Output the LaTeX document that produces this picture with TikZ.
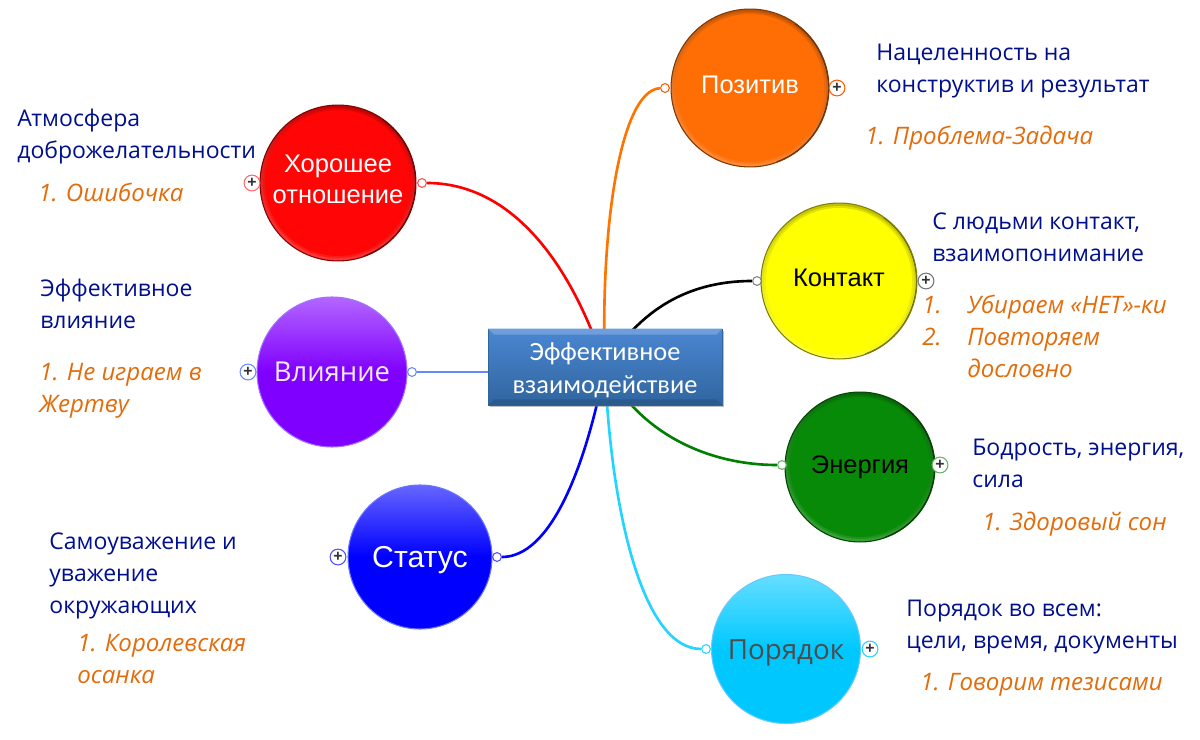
\documentclass[tikz,border=0pt]{standalone}
\usepackage{fontspec}
\usetikzlibrary{backgrounds,shadows}
\setmainfont{Open Sans}
\newfontfamily\arialfont{Liberation Sans}
\newfontfamily\boxfont{Carlito}

\definecolor{navytext}{HTML}{000F8C}
\definecolor{notetext}{HTML}{E36C0A}
\definecolor{bubblered}{HTML}{FF0505}
\definecolor{bubbleorange}{HTML}{FF6E05}
\definecolor{bubbleyellow}{HTML}{FFFF00}
\definecolor{bubblegreen}{HTML}{078A07}
\definecolor{bubbleviolet}{HTML}{8000FF}
\definecolor{bubbleblue}{HTML}{0000FF}
\definecolor{bubblecyan}{HTML}{00C8FF}
\definecolor{branchblue}{HTML}{6688FF}
\definecolor{branchcyan}{HTML}{22D4FF}
\definecolor{boxtop}{HTML}{4A86D2}
\definecolor{boxbottom}{HTML}{30659E}

\tikzset{
    glossy/.style={circle,inner sep=0pt,align=center,draw=#1!50!black,line width=0.6pt,
        top color=#1!75!black,bottom color=#1!80!white,shading angle=-15},
    flatball/.style={circle,inner sep=0pt,align=center,draw=#1!60!branchblue!70!white,line width=0.6pt,
        top color=#1!60!white,bottom color=#1,middle color=#1},
    openknob/.style={circle,draw=#1,fill=white,line width=0.6pt,minimum size=5pt,inner sep=0pt},
    plusknob/.style={circle,draw=#1,fill=white,line width=0.6pt,minimum size=9pt,inner sep=0pt,
        font=\arialfont\bfseries\fontsize{9}{9}\selectfont,text=black!80},
    sidetext/.style={anchor=base west,inner sep=0pt,align=left,text=navytext,
        font=\fontsize{13.1}{18.1}\selectfont},
    notetxt/.style={anchor=base west,inner sep=0pt,align=left,text=notetext,
        font=\itshape\fontsize{13.7}{18.1}\selectfont},
    branch/.style={line width=1.5pt,draw=#1}
}

\begin{document}
\begin{tikzpicture}[x=0.02cm,y=-0.02cm]
\useasboundingbox (0,0) rectangle (1200,740);

% bevelled circles
\foreach \cx/\cy/\rad/\ballcolor/\txtcolor/\ballname/\balltxt in {
    750/88/79/bubbleorange/white/pozitiv/{Позитив\rule[-3.6pt]{0pt}{0pt}},
    338/183/78/bubblered/white/otnoshenie/{Хорошее\\отношение\rule[-4.6pt]{0pt}{0pt}},
    839/281/78/bubbleyellow/black/kontakt/{Контакт\rule[-3.4pt]{0pt}{0pt}},
    860/467/75/bubblegreen/black/energia/Энергия} {
    \node[glossy=\ballcolor,minimum size=\rad*0.04cm,text=\txtcolor,
        font=\arialfont\fontsize{14.5}{17.5}\selectfont,
        path picture={
            \fill[\ballcolor,opacity=0.5] (path picture bounding box.center) circle[radius={(\rad-3)*0.02cm}];
            \fill[\ballcolor] (path picture bounding box.center) circle[radius={(\rad-5)*0.02cm}];
            \draw[\ballcolor!35!black,line width=1.1pt] (path picture bounding box.center) ++(-70:{\rad*0.02cm})
                arc[start angle=-70,end angle=55,radius={\rad*0.02cm}];
        }]
        (\ballname) at (\cx,\cy) {\balltxt};
}

% plain gradient circles
\node[flatball=bubbleviolet,minimum size=150*0.02cm,text=white!92!violet,font=\fontsize{15.6}{18}\selectfont] (vliyanie) at (332,372) {Влияние};
\node[flatball=bubbleblue,minimum size=144*0.02cm,text=white,font=\arialfont\fontsize{17.2}{20}\selectfont] (status) at (420,557) {\rule{0pt}{15.8pt}Статус};
\node[flatball=bubblecyan,minimum size=149*0.02cm,text=black!70,font=\fontsize{15.8}{18}\selectfont] (poryadok) at (786,649) {\rule{0pt}{16pt}Порядок};

% central box
\node[rectangle,minimum width=234*0.02cm,minimum height=76*0.02cm,inner sep=0pt,align=center,
    top color=boxtop,bottom color=boxbottom,draw=boxbottom,text=white,
    font=\boxfont\fontsize{15}{18.8}\selectfont,
    drop shadow={shadow xshift=1.2pt,shadow yshift=-1.2pt,opacity=0.5}] (main) at (605,367)
    {\rule{0pt}{14pt}Эффективное\\взаимодействие};
\fill[boxtop!80!white] (main.north west) -- (main.north east) -- ++(-6,6) -- ++(-222,0) -- cycle;
\fill[boxbottom!90!black] (main.south west) -- (main.south east) -- ++(-6,-6) -- ++(-222,0) -- cycle;

% knobs on the circles
\foreach \kx/\ky/\knobcolor/\knobname in {
    665/88/orange!70!red/kpozitiv, 422/183/red!70/kotnoshenie, 757/281/black!50/kkontakt,
    412/372/branchblue/kvliyanie, 782/465/green!50!black!60/kenergia, 497/557/blue!70/kstatus,
    706/649/branchcyan/kporyadok} {
    \node[openknob=\knobcolor] (\knobname) at (\kx,\ky) {};
}
\foreach \kx/\ky/\knobcolor/\knobname in {
    837/88/orange!70!red/ppozitiv, 252/183/red!60/potnoshenie, 926/281/black!55/pkontakt,
    248/372/branchblue/pvliyanie, 940/465/green!50!black!60/penergia, 338/557/blue!70/pstatus,
    870/649/branchcyan/pporyadok} {
    \node[plusknob=\knobcolor] (\knobname) at (\kx,\ky) {+};
}

\begin{scope}[on background layer]
\draw[branch=orange!90!red] (main.center) .. controls (600,230) and (620,90) .. (kpozitiv);
\draw[branch=red] (main.center) .. controls (570,260) and (510,183) .. (kotnoshenie);
\draw[branch=black] (main.center) .. controls (645,300) and (700,281) .. (kkontakt);
\draw[branch=branchblue] (kvliyanie) -- (kvliyanie -| main.west);
\draw[branch=green!50!black] (main.center) .. controls (640,435) and (710,465) .. (kenergia);
\draw[branch=blue] (main.center) .. controls (585,470) and (550,557) .. (kstatus);
\draw[branch=branchcyan] (main.center) .. controls (610,500) and (640,649) .. (kporyadok);
\end{scope}

% texts beside the circles
\node[sidetext] (tpozitiv) at (876,92) {Нацеленность на\\конструктив и результат};
\node[notetxt] (npozitiv) at (865,145) {1. Проблема-Задача};
\node[sidetext] (totnoshenie) at (17,158) {Атмосфера\\доброжелательности};
\node[notetxt] (notnoshenie) at (38,201) {1. Ошибочка};
\node[sidetext] (tkontakt) at (932,261) {С людьми контакт,\\взаимопонимание};
\node[notetxt] (nkontakt) at (922,377) {\makebox[0.9cm][l]{1.}Убираем «НЕТ»-ки\\\makebox[0.9cm][l]{2.}Повторяем\\\makebox[0.9cm][l]{}дословно};
\node[sidetext] (tvliyanie) at (40,328) {Эффективное\\влияние};
\node[notetxt] (nvliyanie) at (39,412) {1. Не играем в\\Жертву};
\node[sidetext] (tenergia) at (972,487) {Бодрость, энергия,\\сила};
\node[notetxt] (nenergia) at (982,530) {1. Здоровый сон};
\node[sidetext] (tstatus) at (49,613) {Самоуважение и\\уважение\\окружающих};
\node[notetxt] (nstatus) at (77,683) {1. Королевская\\осанка};
\node[sidetext] (tporyadok) at (906,648) {Порядок во всем:\\цели, время, документы};
\node[notetxt] (nporyadok) at (920,690) {1. Говорим тезисами};
\end{tikzpicture}
\end{document}
